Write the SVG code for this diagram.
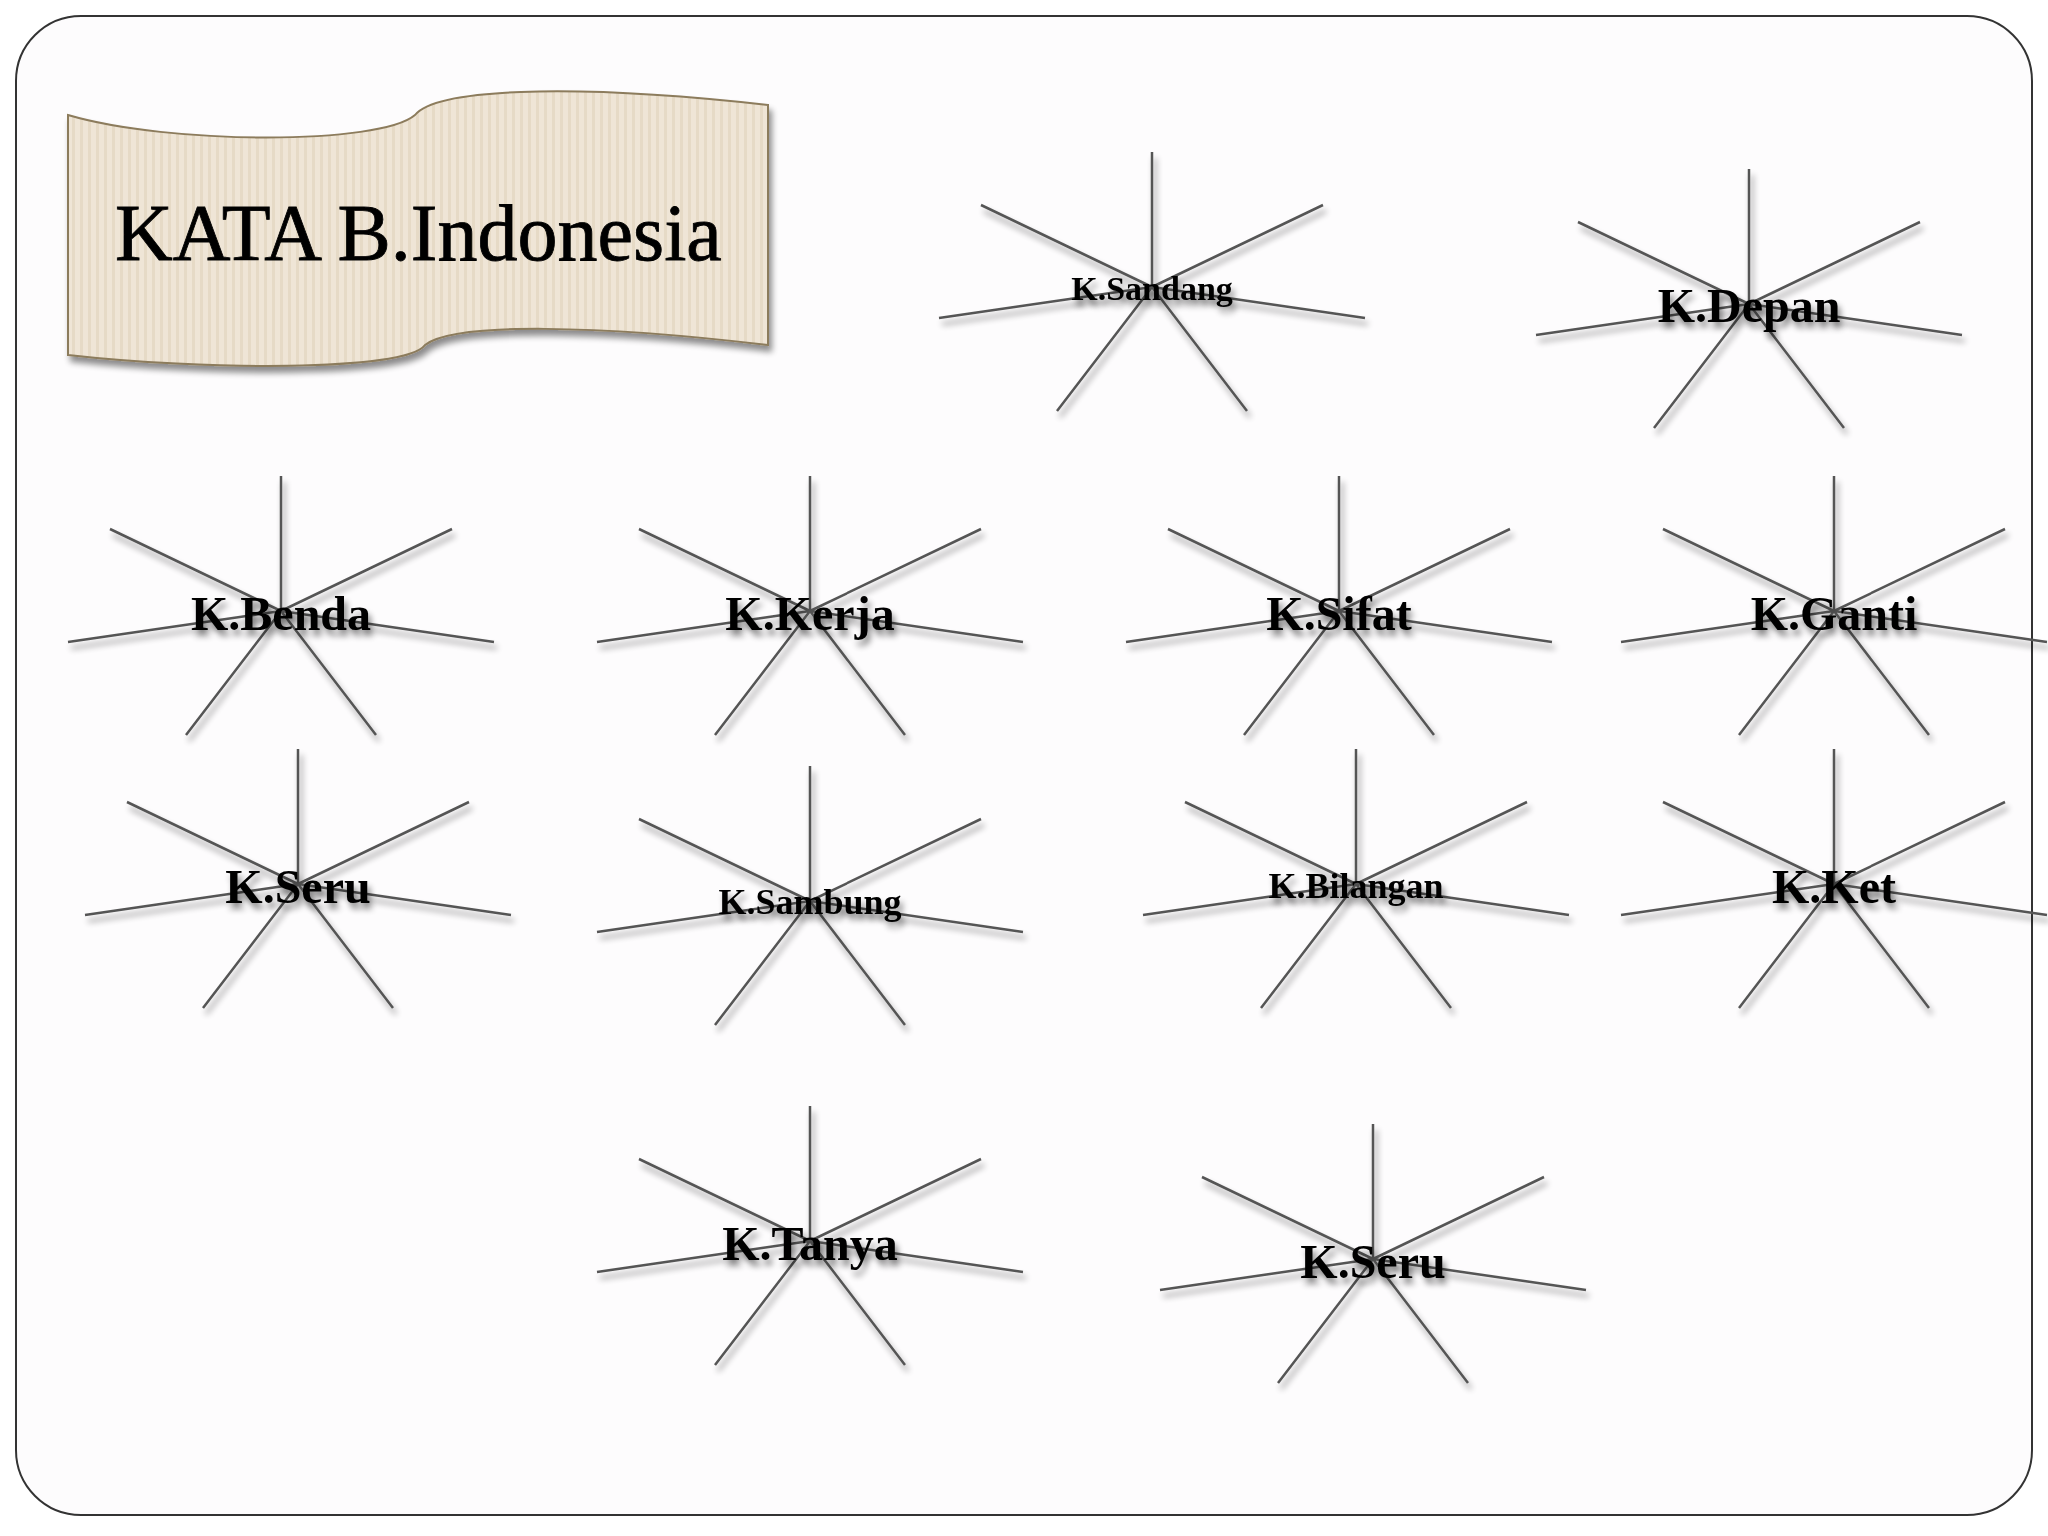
<svg xmlns="http://www.w3.org/2000/svg" width="2048" height="1536" viewBox="0 0 2048 1536">
<defs>
<filter id="sh" x="-20%" y="-20%" width="140%" height="140%"><feGaussianBlur in="SourceAlpha" stdDeviation="3"/><feOffset dx="3" dy="6" result="b"/><feComponentTransfer><feFuncA type="linear" slope="0.45"/></feComponentTransfer><feMerge><feMergeNode/><feMergeNode in="SourceGraphic"/></feMerge></filter>
<pattern id="stripes" width="8" height="10" patternUnits="userSpaceOnUse"><rect width="8" height="10" fill="#efe5d6"/><rect width="3" height="10" fill="#e6dac6"/></pattern>
<g id="star"><path d="M0,0V-135M0,0L-171,-82M0,0L171,-82M0,0L-213,31M0,0L213,31M0,0L-95,124M0,0L95,124" stroke="#555" stroke-width="2.5" fill="none"/></g>
</defs>
<style>.t{font-family:"Liberation Serif",serif;font-weight:bold;fill:#000;text-anchor:middle}</style>
<rect x="0" y="0" width="2048" height="1536" fill="#fff"/>
<rect x="16" y="16" width="2016" height="1499" rx="65" fill="#fdfcfd" stroke="#333" stroke-width="2"/>
<g id="banner" filter="url(#sh)">
<path d="M68,115 C170,145 380,145 415,115 C435,90 560,82 768,105 L768,345 C600,325 455,322 425,345 C405,372 200,370 68,355 Z" fill="url(#stripes)" stroke="#8c7b5c" stroke-width="2"/>
<text x="115" y="260" font-family="Liberation Serif,serif" font-size="80" fill="#000" stroke="#000" stroke-width="0.8">KATA B.Indonesia</text>
</g>
<g id="connectors" filter="url(#sh)">
<use href="#star" x="1152" y="287"/><use href="#star" x="1749" y="304"/>
<use href="#star" x="281" y="611"/><use href="#star" x="810" y="611"/><use href="#star" x="1339" y="611"/><use href="#star" x="1834" y="611"/>
<use href="#star" x="298" y="884"/><use href="#star" x="810" y="901"/><use href="#star" x="1356" y="884"/><use href="#star" x="1834" y="884"/>
<use href="#star" x="810" y="1241"/><use href="#star" x="1373" y="1259"/>
</g>
<g filter="url(#sh)">
<g id="n1"><text class="t" x="1152" y="300" font-size="34">K.Sandang</text></g>
<g id="n2"><text class="t" x="1749" y="322" font-size="48">K.Depan</text></g>
<g id="n3"><text class="t" x="281" y="630" font-size="48">K.Benda</text></g>
<g id="n4"><text class="t" x="810" y="630" font-size="48">K.Kerja</text></g>
<g id="n5"><text class="t" x="1339" y="630" font-size="48">K.Sifat</text></g>
<g id="n6"><text class="t" x="1834" y="630" font-size="48">K.Ganti</text></g>
<g id="n7"><text class="t" x="298" y="903" font-size="48">K.Seru</text></g>
<g id="n8"><text class="t" x="810" y="914" font-size="36">K.Sambung</text></g>
<g id="n9"><text class="t" x="1356" y="898" font-size="36">K.Bilangan</text></g>
<g id="n10"><text class="t" x="1834" y="903" font-size="48">K.Ket</text></g>
<g id="n11"><text class="t" x="810" y="1260" font-size="48">K.Tanya</text></g>
<g id="n12"><text class="t" x="1373" y="1278" font-size="48">K.Seru</text></g>
</g>
</svg>
